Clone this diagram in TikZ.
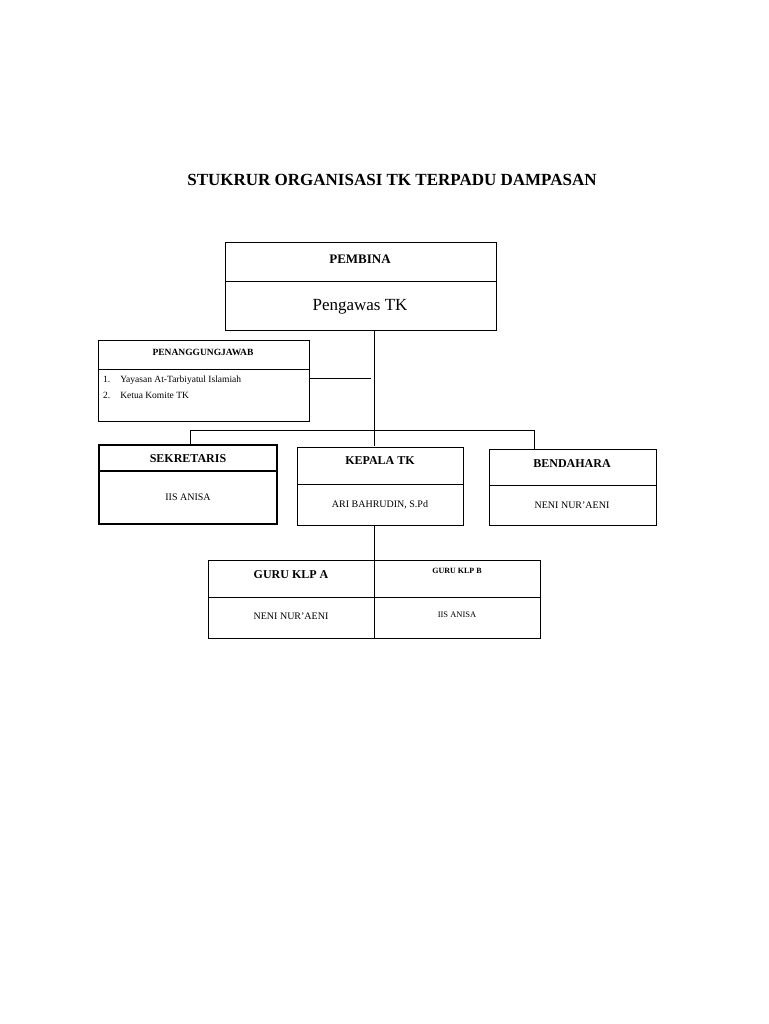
\documentclass[tikz,border=0pt]{standalone}
\usepackage{fontspec}
\setmainfont{Liberation Serif}
\begin{document}
\begin{tikzpicture}[x=1pt,y=-1pt,
  box/.style={draw,line width=0.8pt},
  tbox/.style={draw,line width=1.3pt},
  ln/.style={line width=0.8pt},
  t/.style={inner sep=0pt,anchor=center}]
\useasboundingbox (0,0) rectangle (768,1024);
\node[t,font=\bfseries\fontsize{17}{20}\selectfont] (title) at (392,180) {STUKRUR ORGANISASI TK TERPADU DAMPASAN};
% Pembina
\draw[box] (225,242) rectangle (496,330); \draw[ln] (225,281) -- (496,281);
\node[t,font=\bfseries\fontsize{13}{15}\selectfont] (pb) at (360,259) {PEMBINA};
\node[t,font=\fontsize{17}{20}\selectfont] (pw) at (360,307) {Pengawas TK};
% Penanggungjawab
\draw[box] (98,340) rectangle (309,421); \draw[ln] (98,369) -- (309,369);
\node[t,font=\bfseries\fontsize{9.5}{11}\selectfont] (pj) at (203,352) {PENANGGUNGJAWAB};
\node[anchor=west,inner sep=0pt,font=\fontsize{9.5}{11}\selectfont] (p1) at (103,380) {1.\hspace{10pt}Yayasan At-Tarbiyatul Islamiah};
\node[anchor=west,inner sep=0pt,font=\fontsize{9.5}{11}\selectfont] (p2) at (103,395) {2.\hspace{10pt}Ketua Komite TK};
% connectors
\coordinate (top) at (374,330); \coordinate (kt) at (374,446);
\draw[ln] (top) -- (kt);
\draw[ln] (309,378) -- (371,378);
\draw[ln] (190,445) -- (190,430) -- (534,430) -- (534,449);
% Sekretaris
\draw[tbox] (99,445) rectangle (277,524); \draw[tbox] (99,471) -- (277,471);
\node[t,font=\bfseries\fontsize{12}{14}\selectfont] (sk) at (188,459) {SEKRETARIS};
\node[t,font=\fontsize{10}{12}\selectfont] (sk2) at (188,497) {IIS ANISA};
% Kepala
\draw[box] (297,447) rectangle (463,525); \draw[ln] (297,484) -- (463,484);
\node[t,font=\bfseries\fontsize{12}{14}\selectfont] (kp) at (380,461) {KEPALA TK};
\node[t,font=\fontsize{10}{12}\selectfont] (kp2) at (380,505) {ARI BAHRUDIN, S.Pd};
% Bendahara
\draw[box] (489,449) rectangle (656,525); \draw[ln] (489,485) -- (656,485);
\node[t,font=\bfseries\fontsize{12}{14}\selectfont] (bd) at (572,464) {BENDAHARA};
\node[t,font=\fontsize{10}{12}\selectfont] (bd2) at (572,505) {NENI NUR'AENI};
\draw[ln] (374,525) -- (374,560);
% Guru A
\draw[box] (208,560) rectangle (374,638); \draw[ln] (208,597) -- (374,597);
\node[t,font=\bfseries\fontsize{12}{14}\selectfont] (ga) at (291,575) {GURU KLP A};
\node[t,font=\fontsize{10}{12}\selectfont] (ga2) at (291,616) {NENI NUR'AENI};
% Guru B
\draw[box] (374,560) rectangle (540,638); \draw[box] (374,597) -- (540,597);
\node[t,font=\bfseries\fontsize{8}{10}\selectfont] (gb) at (457,571) {GURU KLP B};
\node[t,font=\fontsize{8.5}{10}\selectfont] (gb2) at (457,615) {IIS ANISA};
\end{tikzpicture}
\end{document}
